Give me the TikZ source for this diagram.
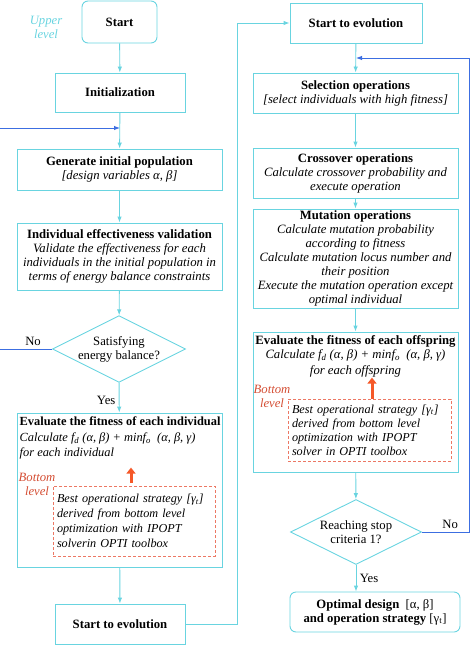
\documentclass[tikz,border=0pt]{standalone}
\usepackage{fontspec}
\setmainfont{Liberation Serif}
\usetikzlibrary{shapes.geometric,arrows.meta}

\definecolor{tuerkis}{RGB}{105,212,224}
\definecolor{blaulinie}{RGB}{60,110,225}
\definecolor{rottext}{RGB}{212,78,52}
\definecolor{rotstrich}{RGB}{236,120,100}
\definecolor{rotpfeilfarbe}{RGB}{245,88,40}

\newcommand{\titel}[1]{\textup{\textbf{#1}}}

\begin{document}
\begin{tikzpicture}[x=1pt,y=-1pt,
    schrift/.style={font=\fontsize{12.7}{14}\selectfont},
    kursiv/.style={font=\fontsize{12.7}{14}\selectfont\itshape},
    kasten/.style={schrift, rectangle, draw=tuerkis, line width=0.9pt, inner sep=1pt, align=center},
    rund/.style={kasten, rounded corners=6pt},
    raute/.style={schrift, diamond, aspect=2, draw=tuerkis, line width=0.9pt, inner sep=0pt, align=center},
    strichkasten/.style={font=\fontsize{12.2}{14}\selectfont\itshape, draw=rotstrich, line width=0.8pt,
      dash pattern=on 3pt off 2pt, align=left, inner sep=4pt},
    pfeil/.style={draw=tuerkis, line width=0.9pt, -{Latex[length=6pt,width=4.5pt]}},
    blaupfeil/.style={draw=blaulinie, line width=0.9pt, -{Latex[length=6pt,width=4.5pt]}},
    rotpfeil/.style={draw=rotpfeilfarbe, line width=3pt, -{Triangle[length=6pt,width=9pt]}},
    ebene/.style={kursiv, align=center, inner sep=0pt},
]
\useasboundingbox (0,0) rectangle (474,645);

% left column
\node [ebene, tuerkis] (oben) at (46,27) {Upper\\level};
\node [rund, minimum width=75pt, minimum height=42pt] (start) at (119.5,22) {\textbf{Start}};
\node [kasten, minimum width=130pt, minimum height=39pt] (init) at (120,92.5) {\textbf{Initialization}};
\node [kasten, kursiv, minimum width=205pt, minimum height=41pt] (gen) at (119.5,169.5)
  {\titel{Generate initial population}\\{}[design variables α, β]};
\node [kasten, kursiv, minimum width=205pt, minimum height=67pt] (indiv) at (119.5,256.5)
  {\titel{Individual effectiveness validation}\\ Validate the effectiveness for each\\
   individuals in the initial population in\\ terms of energy balance constraints};
\node [raute, minimum width=128pt, minimum height=66pt] (satis) at (119,349) {Satisfying\\energy balance?};

\node [kasten, minimum width=205pt, minimum height=154pt] (evalL) at (119.5,490) {};
\node [kursiv, anchor=north west, align=left, inner sep=0pt, font=\fontsize{12.4}{14}\selectfont\itshape] (evalLtext) at (19.5,417)
  {\titel{Evaluate the fitness of each individual}\\[1.5pt]
   Calculate f\textsubscript{d} (α, β) + minf\textsubscript{o}~ (α, β, γ)\\[1.5pt] for each individual};
\node [ebene, rottext] (untenL) at (37,484) {Bottom\\level};
\node [strichkasten, text width=154pt, minimum height=70pt, font=\fontsize{12.2}{15}\selectfont\itshape] (bestL) at (134,521)
  {Best operational strategy [γ\textsubscript{t}]\\ derived from bottom level\\
   optimization with IPOPT\\ solverin OPTI toolbox};
\node [kasten, minimum width=130pt, minimum height=40pt] (evoL) at (120,624) {\textbf{Start to evolution}};

% right column
\node [kasten, minimum width=132pt, minimum height=40pt] (evoR) at (356,23) {\textbf{Start to evolution}};
\node [kasten, kursiv, minimum width=205pt, minimum height=40pt] (sel) at (355.5,93)
  {\titel{Selection operations}\\{}[select individuals with high fitness]};
\node [kasten, kursiv, minimum width=205pt, minimum height=50pt] (cross) at (355.5,173)
  {\titel{Crossover operations}\\ Calculate crossover probability and\\ execute operation};
\node [kasten, kursiv, minimum width=205pt, minimum height=99pt] (mut) at (355.5,258.5)
  {\titel{Mutation operations}\\ Calculate mutation probability\\ according to fitness\\
   Calculate mutation locus number and\\ their position\\
   Execute the mutation operation except\\ optimal individual};

\node [kasten, minimum width=205pt, minimum height=140pt] (evalR) at (355.5,402) {};
\node [kursiv, anchor=north, align=center, inner sep=0pt] (evalRtext) at (355.5,335.5)
  {\titel{Evaluate the fitness of each offspring}\\
   Calculate f\textsubscript{d} (α, β) + minf\textsubscript{o}~ (α, β, γ)\\[1.5pt] for each offspring};
\node [ebene, rottext] (untenR) at (272,396) {Bottom\\level};
\node [strichkasten, text width=155pt, minimum height=62pt] (bestR) at (369.5,430)
  {Best operational strategy [γ\textsubscript{t}]\\ derived from bottom level\\
   optimization with IPOPT\\ solver in OPTI toolbox};
\node [raute, minimum width=131pt, minimum height=65pt] (reach) at (356,532) {Reaching stop\\criteria 1?};
\node [rund, minimum width=170pt, minimum height=40pt] (opt) at (375,612)
  {\textbf{Optimal design}~ [α, β]\\ \textbf{and operation strategy} [γ\textsubscript{t}]};

% entry points of the loops
\coordinate (eintrittL) at (init.south |- 0,128);
\coordinate (eintrittR) at (evoR.south |- 0,58);

% connectors
\draw [pfeil] (start) -- (init);
\draw [pfeil] (init) -- (gen);
\draw [pfeil] (gen) -- (indiv);
\draw [pfeil] (indiv) -- (satis);
\draw [pfeil] (satis) -- node [pos=.6, left, schrift] {Yes} (evalL);
\draw [pfeil] (evalL) -- (evoL);
\draw [pfeil] (evoL.east) -- ++(52,0) |- (evoR.west);
\draw [pfeil] (evoR) -- (sel);
\draw [pfeil] (sel) -- (cross);
\draw [pfeil] (cross) -- (mut);
\draw [pfeil] (mut) -- (evalR);
\draw [pfeil] (evalR) -- (reach);
\draw [pfeil] (reach.south) -- node [right, schrift] {Yes} (reach.south |- opt.north);

\draw [blaupfeil] (satis.west) -- node [pos=.35, above, schrift] {No} ++(-54,0) |- (eintrittL);
\draw [blaupfeil] (reach.east) -- node [pos=.6, above, schrift] {No} ++(47,0) |- (eintrittR);

\draw [rotpfeil, shorten <=3pt] ([xshift=-3pt]bestL.north) -- ++(0,-18);
\draw [rotpfeil] ([xshift=2.5pt]bestR.north) -- ++(0,-21);

\end{tikzpicture}
\end{document}
